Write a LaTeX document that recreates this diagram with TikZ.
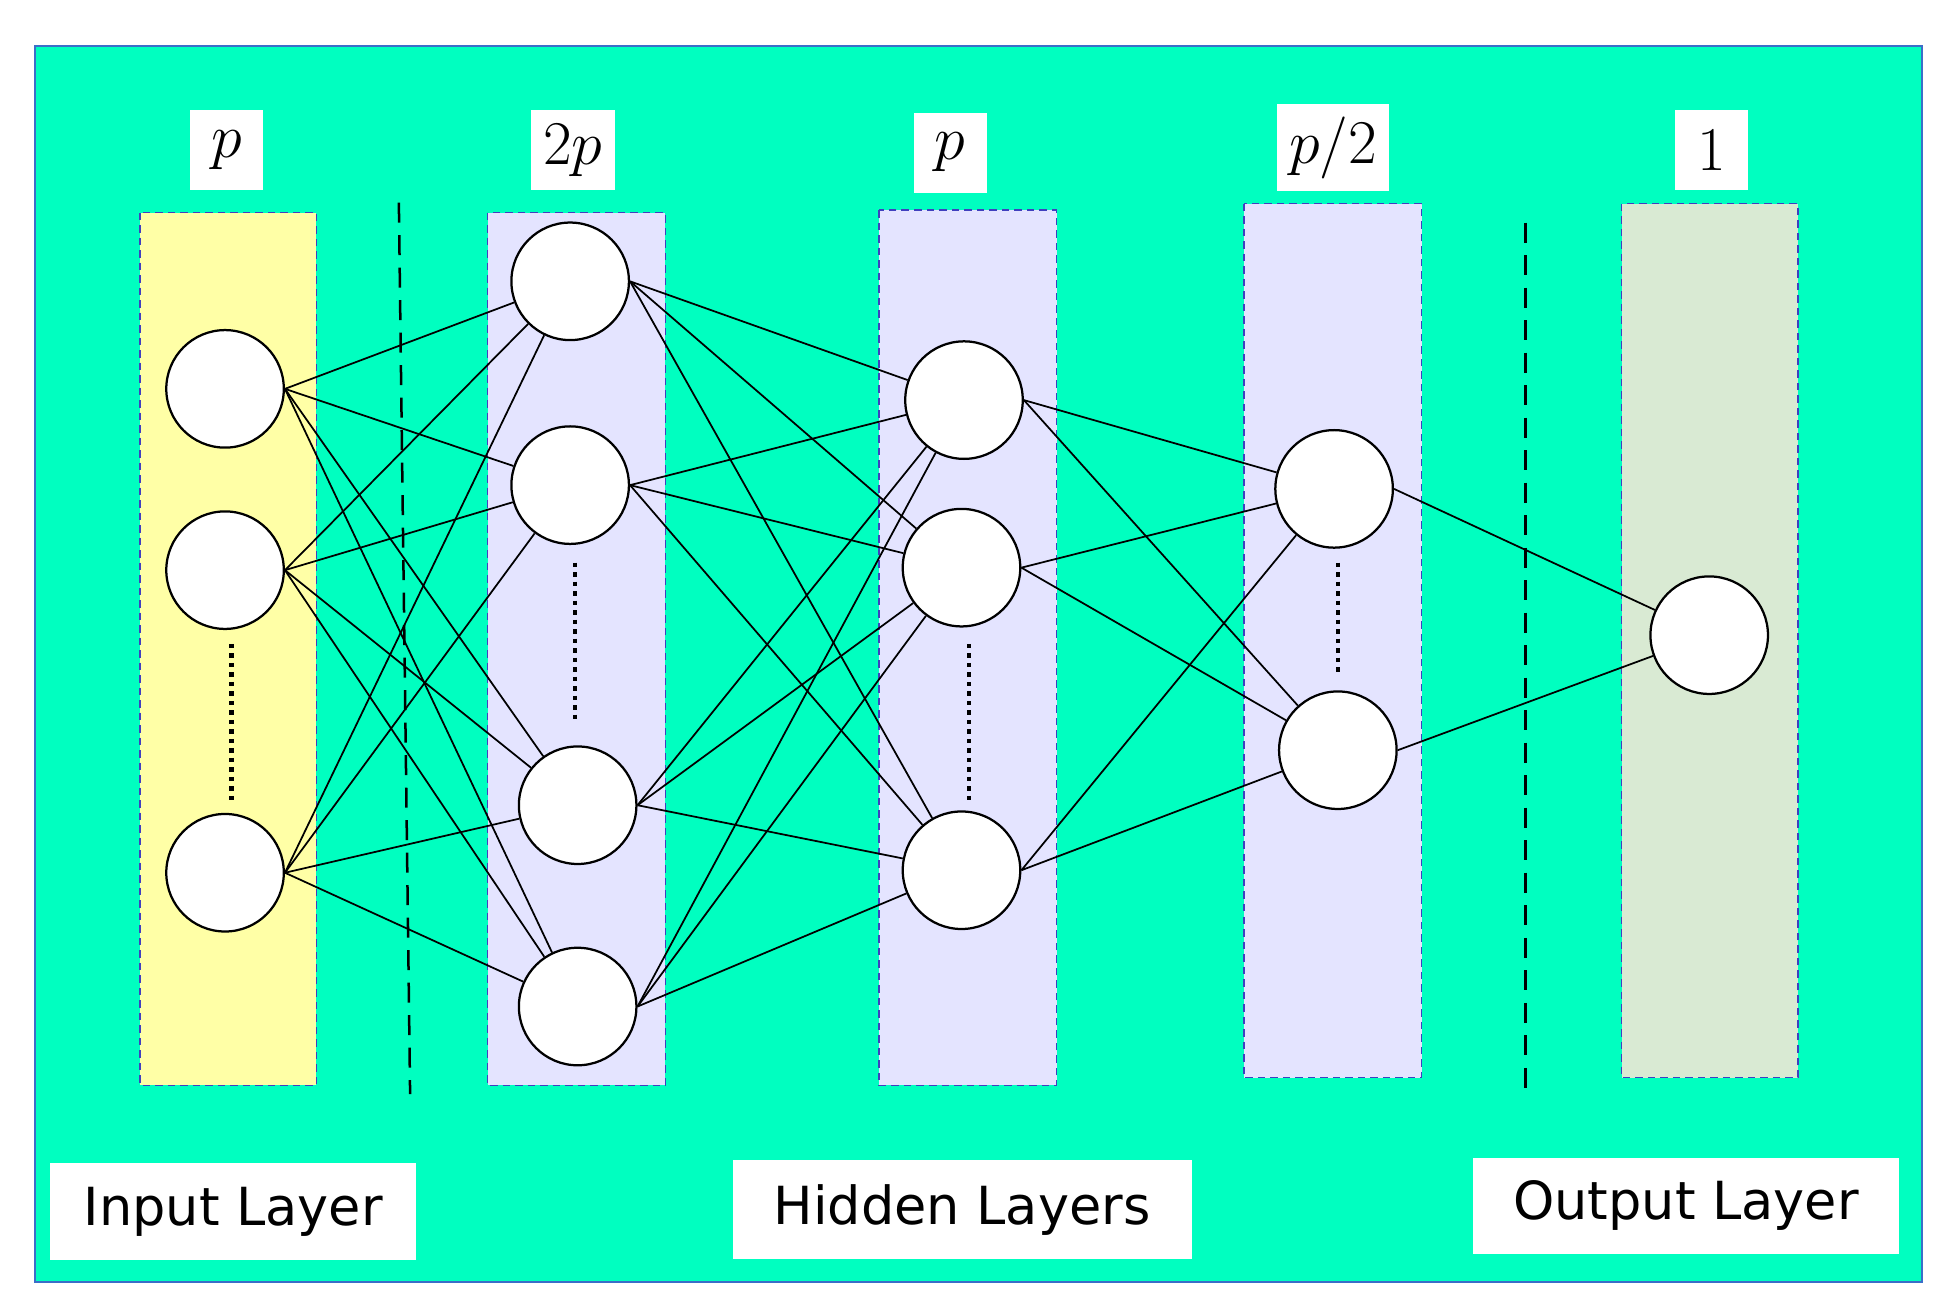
\documentclass[tikz,border=0pt]{standalone}
\usepackage{fontspec}
\setmainfont{DejaVu Sans}
\begin{document}
\begin{tikzpicture}[x=0.5pt,y=-0.5pt,
  nd/.style={circle,draw=black,line width=0.9pt,fill=white,minimum size=47pt,inner sep=0pt},
  col/.style={draw=blue!50!gray,densely dashed,line width=0.5pt},
  lab/.style={fill=white,inner sep=5pt,minimum height=32pt,minimum width=29pt,font=\fontsize{28}{30}\selectfont},
  big/.style={fill=white,inner sep=0pt,font=\fontsize{21}{24}\selectfont},
  ed/.style={line width=0.7pt},
  dots/.style={dotted,line width=1.8pt}]
\useasboundingbox (0,0) rectangle (1562,1050);
\fill[white] (0,0) rectangle (1562,1050);
\draw[fill={rgb,255:red,0;green,255;blue,192},draw={rgb,255:red,60;green,110;blue,200},line width=0.8pt] (28,37) rectangle (1537,1025);
\draw[col,fill={rgb,255:red,255;green,255;blue,166}] (112,170) rectangle (253,868);
\draw[col,fill={rgb,255:red,228;green,228;blue,255}] (390,170) rectangle (532,868);
\draw[col,fill={rgb,255:red,228;green,228;blue,255}] (703,168) rectangle (845,868);
\draw[col,fill={rgb,255:red,228;green,228;blue,255}] (995,163) rectangle (1137,862);
\draw[col,fill={rgb,255:red,217;green,234;blue,211}] (1297,163) rectangle (1438,862);
\coordinate (d1a) at (319,162); \coordinate (d1b) at (328,875);
\coordinate (d2a) at (1220,178); \coordinate (d2b) at (1220,870);
\draw[dashed,line width=1pt,dash pattern=on 8pt off 5pt] (d1a) -- (d1b);
\draw[dashed,line width=1pt,dash pattern=on 8pt off 5pt] (d2a) -- (d2b);
\coordinate (e1a) at (185,515); \coordinate (e1b) at (185,640);
\coordinate (e2a) at (460,450); \coordinate (e2b) at (460,578);
\coordinate (e3a) at (775,515); \coordinate (e3b) at (775,640);
\coordinate (e4a) at (1070,450); \coordinate (e4b) at (1070,540);
\draw[dots] (e1a)--(e1b); \draw[dots] (e2a)--(e2b);
\draw[dots] (e3a)--(e3b); \draw[dots] (e4a)--(e4b);
\node[nd] (i1) at (180,311) {}; \node[nd] (i2) at (180,456) {}; \node[nd] (i3) at (180,698) {};
\node[nd] (a1) at (456,225) {}; \node[nd] (a2) at (456,388) {}; \node[nd] (a3) at (462,644) {}; \node[nd] (a4) at (462,805) {};
\node[nd] (b1) at (771,320) {}; \node[nd] (b2) at (769,454) {}; \node[nd] (b3) at (769,696) {};
\node[nd] (c1) at (1067,391) {}; \node[nd] (c2) at (1070,600) {};
\node[nd] (o1) at (1367,508) {};
\foreach \s in {i1,i2,i3}{\foreach \t in {a1,a2,a3,a4}{\draw[ed] (\s.east) -- (\t);}}
\foreach \s in {a1,a2,a3,a4}{\foreach \t in {b1,b2,b3}{\draw[ed] (\s.east) -- (\t);}}
\foreach \s in {b1,b2,b3}{\foreach \t in {c1,c2}{\draw[ed] (\s.east) -- (\t);}}
\foreach \s in {c1,c2}{\draw[ed] (\s.east) -- (o1);}
\node[lab] (l1) at (181,120) {$p$};
\node[lab] (l2) at (458,120) {$2p$};
\node[lab] (l3) at (760,122) {$p$};
\node[lab] (l4) at (1066,118) {$p/2$};
\node[lab] (l5) at (1369,120) {$1$};
\node[big,minimum width=146.5pt,minimum height=39pt] (t1) at (186.5,969) {Input Layer};
\node[big,minimum width=183.5pt,minimum height=39.5pt] (t2) at (769.5,967.5) {Hidden Layers};
\node[big,minimum width=170.5pt,minimum height=38.5pt] (t3) at (1348.5,964.5) {Output Layer};
\end{tikzpicture}
\end{document}
